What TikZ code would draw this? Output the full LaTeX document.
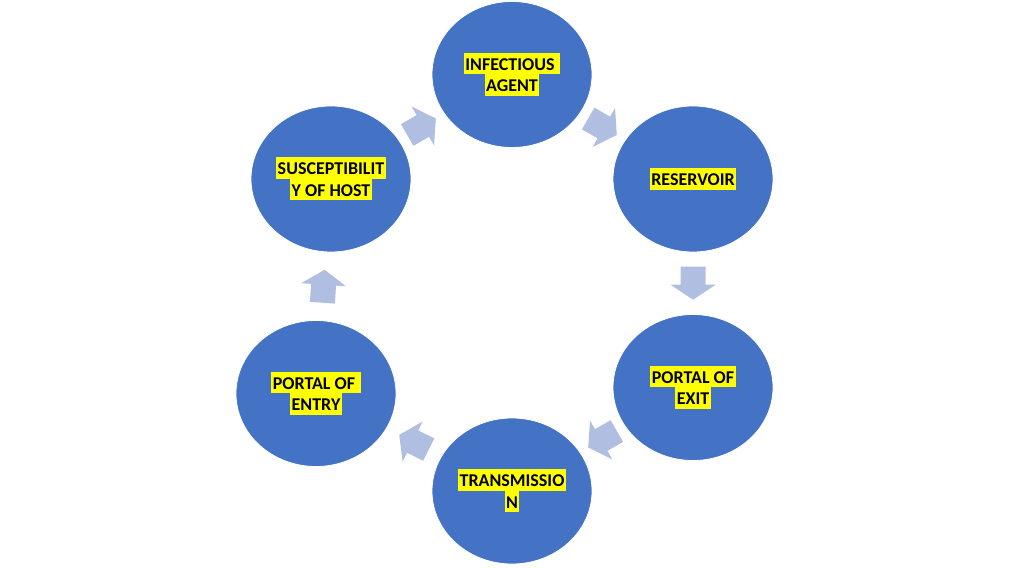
\documentclass[tikz,border=0pt]{standalone}
\usepackage{fontspec}
\setmainfont{Carlito}
\usetikzlibrary{shapes.geometric}
\definecolor{cycblue}{HTML}{4472C4}
\definecolor{arrowblue}{HTML}{B0BEE1}
\definecolor{hlyellow}{HTML}{FFFF00}
\newcommand\hlt[1]{{\setlength\fboxsep{0pt}\colorbox{hlyellow}{\hspace{1.5pt}\rule[-4pt]{0pt}{21.5pt}#1\hspace{1.5pt}}}}
\tikzset{
  stage/.style={ellipse, fill=cycblue, draw=white, line width=0.8pt,
    minimum width=160pt, minimum height=146pt, inner sep=0pt,
    align=center, text=black,
    font=\fontsize{18}{21.5}\selectfont\bfseries},
  barrow/.pic={\fill[arrowblue] (-16.5,-12.5) -- (1.5,-12.5) -- (1.5,-22.5) -- (16.5,0)
     -- (1.5,22.5) -- (1.5,12.5) -- (-16.5,12.5) -- cycle;},
  flow/.style={sloped, allow upside down, pos=0.5}
}
\begin{document}
\begin{tikzpicture}[x=1pt,y=1pt]
\useasboundingbox (0,0) rectangle (1024,567);
\node[stage] (ia)    at (512,492.5) {\hlt{INFECTIOUS\ }\\\hlt{AGENT}};
\node[stage] (res)   at (693,388)   {\hlt{RESERVOIR}};
\node[stage] (exit)  at (693,179.5) {\hlt{PORTAL OF}\\\hlt{EXIT}};
\node[stage] (trans) at (512,76)    {\hlt{TRANSMISSIO}\\\hlt{N}};
\node[stage] (entry) at (316,173.5) {\hlt{PORTAL OF\ }\\\hlt{ENTRY}};
\node[stage] (susc)  at (331,388)   {\hlt{SUSCEPTIBILIT}\\\hlt{Y OF HOST}};
\path (susc) -- pic[flow]{barrow} (ia);
\path (ia) -- pic[flow]{barrow} (res);
\path (res) -- pic[flow]{barrow} (exit);
\path (exit) -- pic[flow]{barrow} (trans);
\path (trans) -- pic[flow]{barrow} (entry);
\path (entry) -- pic[flow]{barrow} (susc);
\end{tikzpicture}
\end{document}
